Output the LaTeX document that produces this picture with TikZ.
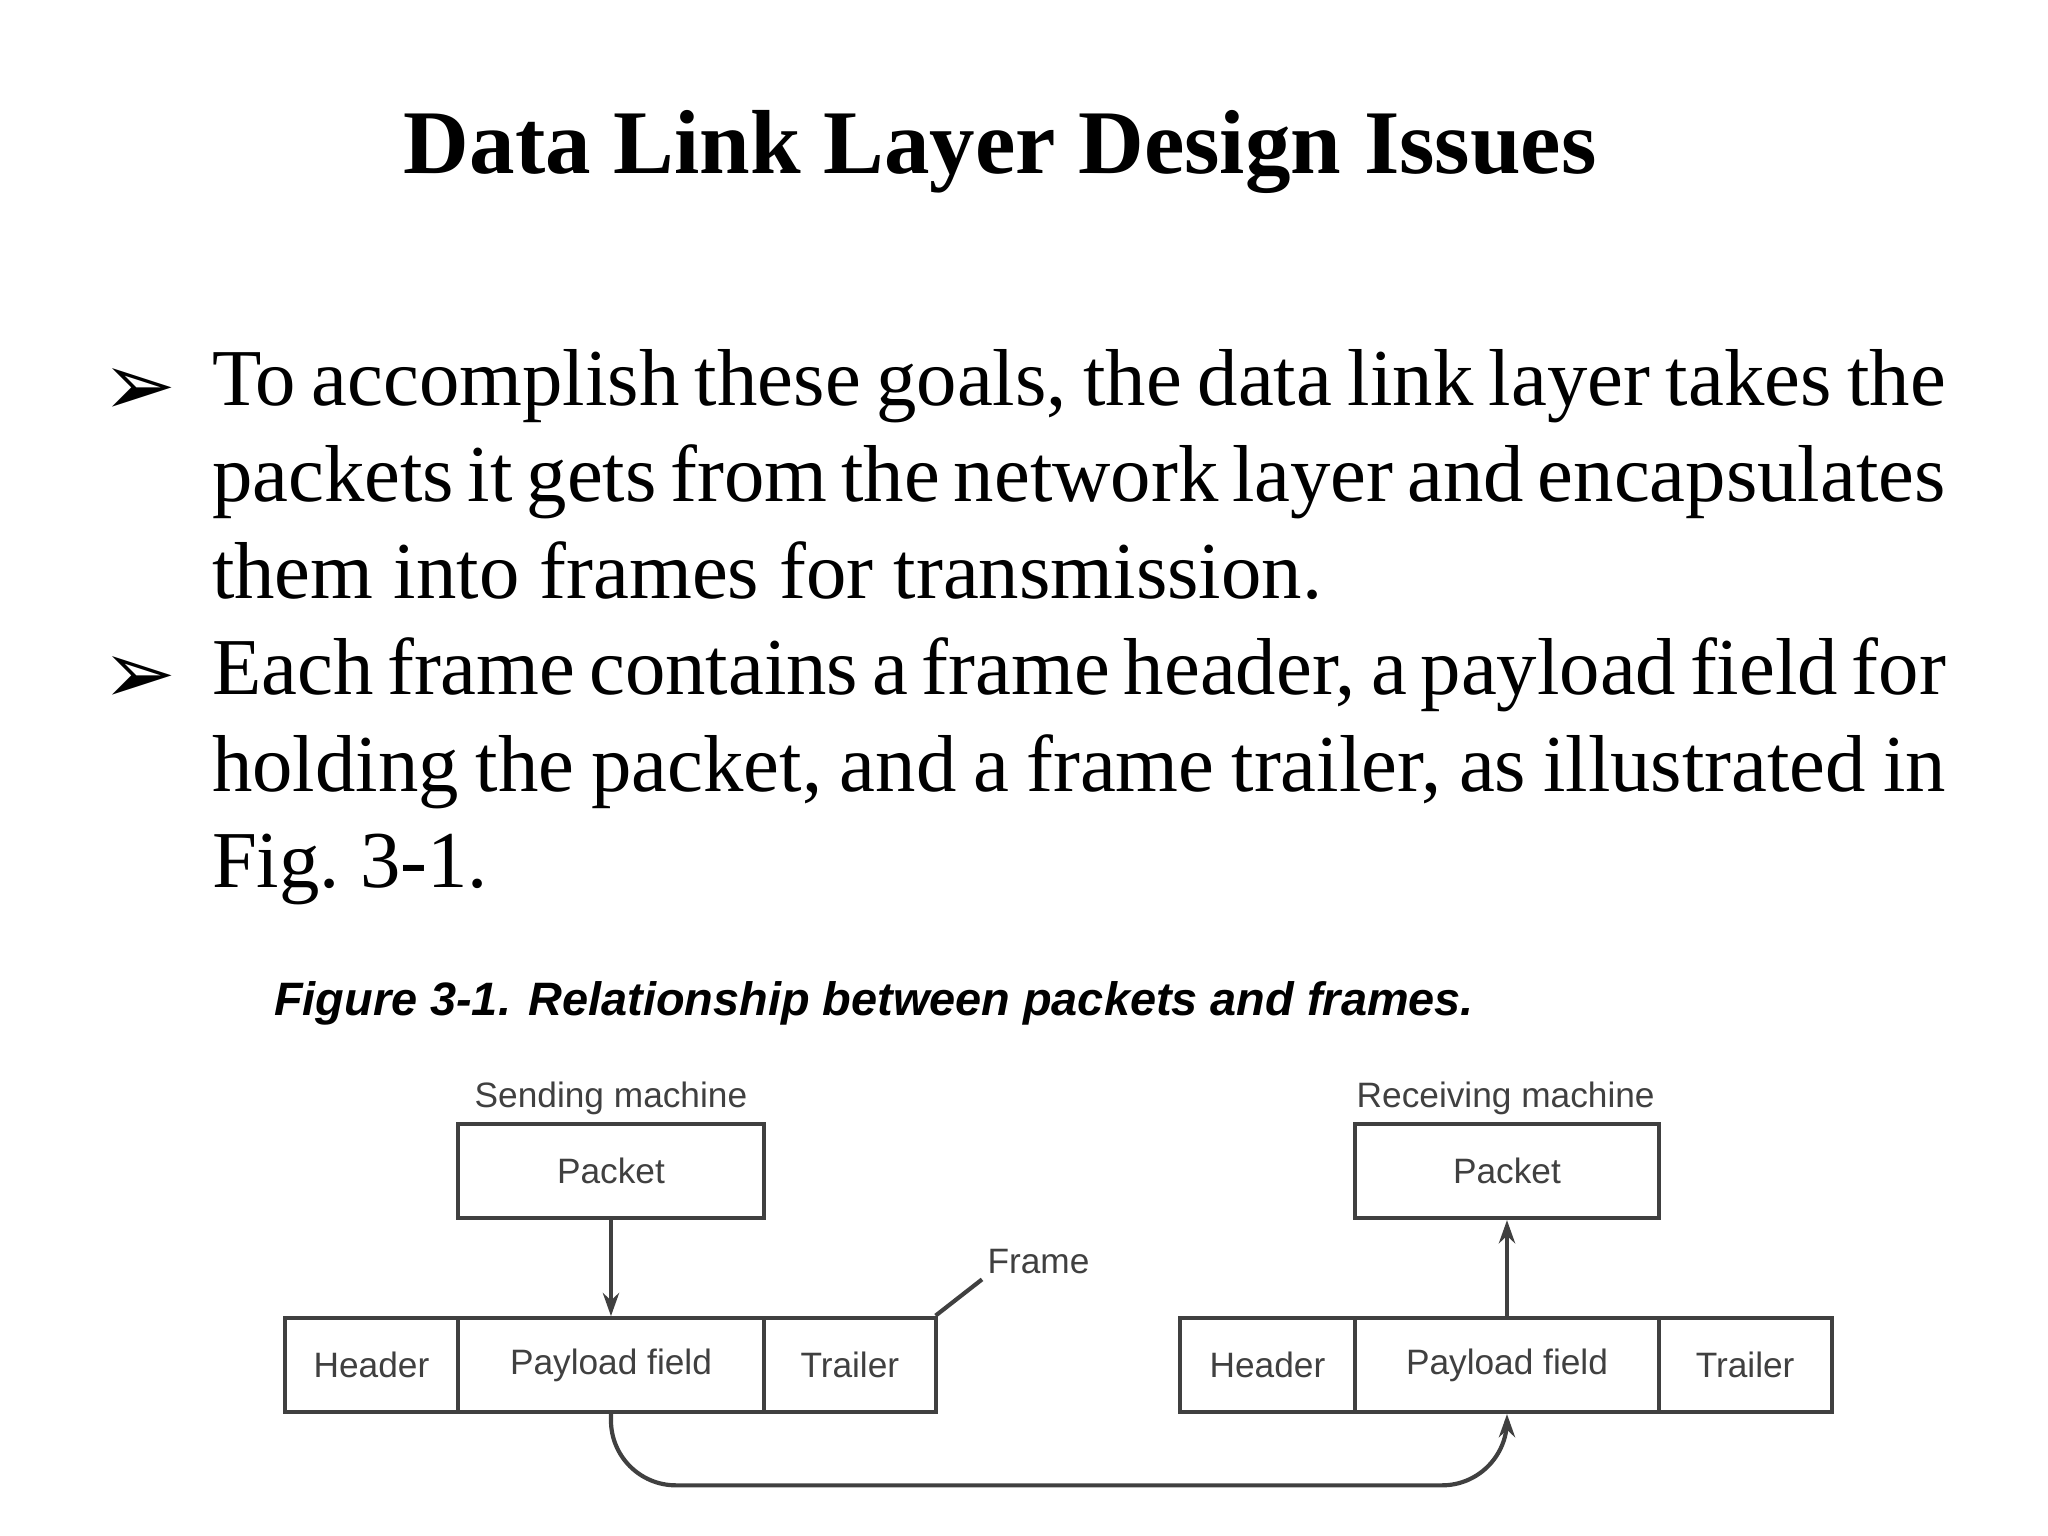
\documentclass[tikz,border=0pt]{standalone}
\usepackage{fontspec}
\setmainfont{Liberation Serif}
\newfontfamily\sansf{Liberation Sans}
\newfontfamily\dejav{DejaVu Sans}
\usetikzlibrary{arrows.meta}
\begin{document}
\begin{tikzpicture}[x=0.01cm,y=-0.01cm,
  box/.style={draw=black!75,line width=0.9pt,minimum height=0.71cm,inner sep=0pt,font=\sansf\fontsize{7.6}{9}\selectfont,text=black!75},
  lab/.style={font=\sansf\fontsize{7.6}{9}\selectfont,text=black!75,inner sep=1pt},
  arr/.style={draw=black!75,line width=0.9pt,-{Stealth[length=5pt,width=3.5pt]}}]
\useasboundingbox (0,0) rectangle (1552,1164);
\node (title) at (758,115) {\fontsize{19.6}{24}\selectfont\bfseries Data Link Layer Design Issues};
\node[anchor=north west,text width=13.13cm,inner sep=0pt,align=justify] (body) at (160,264)
{\fontsize{17.4}{20.8}\selectfont\hyphenpenalty=10000\exhyphenpenalty=10000 To accomplish these goals, the data link layer takes the packets it gets from the network layer and encapsulates them into frames for transmission.\par
Each frame contains a frame header, a payload field for holding the packet, and a frame trailer, as illustrated in Fig.~3-1.\par};
\node (b1) at (106,297) {\dejav\bfseries\fontsize{19}{20}\selectfont ➢};
\node (b2) at (106,515) {\dejav\bfseries\fontsize{19}{20}\selectfont ➢};
\node[anchor=west,inner sep=0pt] (cap) at (207,760) {\sansf\fontsize{10.1}{12}\selectfont\bfseries\itshape Figure 3-1. Relationship between packets and frames.};
% left
\node[box,minimum width=2.32cm] (sp) at (463,887.5) {Packet};
\node[box,minimum width=1.31cm] (lh) at (281.5,1034.5) {Header};
\node[box,minimum width=2.32cm] (lp) at (463,1034.5) {Payload field};
\node[box,minimum width=1.30cm] (lt) at (644,1034.5) {Trailer};
\node[lab] (sm) at (463,832) {Sending machine};
% right
\node[box,minimum width=2.30cm] (rp) at (1142,887.5) {Packet};
\node[box,minimum width=1.33cm] (rh) at (960.5,1034.5) {Header};
\node[box,minimum width=2.30cm] (rpl) at (1142,1034.5) {Payload field};
\node[box,minimum width=1.31cm] (rt) at (1322.5,1034.5) {Trailer};
\node[lab] (rm) at (1141,832) {Receiving machine};
\node[lab] (fr) at (787,956) {Frame};
\coordinate (fe) at (709,997);
\draw[black!75,line width=0.9pt] (fe) -- (fr.south west);
\draw[arr] (sp.south) -- (lp.north);
\draw[arr] (rpl.north) -- (rp.south);
\draw[arr,rounded corners=14pt] (lp.south) -- ++(0,54) -| (rpl.south);
\end{tikzpicture}
\end{document}
